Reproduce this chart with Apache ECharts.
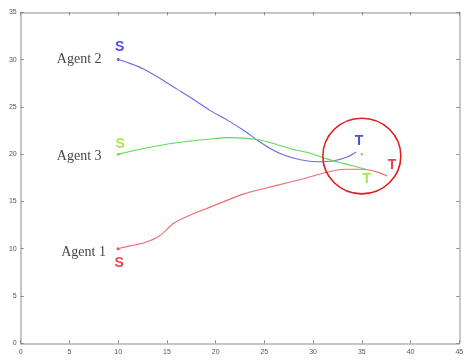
<!DOCTYPE html>
<html><head><meta charset="utf-8">
<script src="https://cdn.jsdelivr.net/npm/echarts@6/dist/echarts.min.js"></script>
<style>html,body{margin:0;padding:0;background:#fff}#c{width:474px;height:362px}</style>
</head><body><div id="c"></div>
<script>
// Agent trajectories [x, y]
var agent1 = [[10,10],[11.2,10.3],[12.6,10.6],[14.3,11.4],[15.7,12.7],[17.7,13.7],[19.45,14.4],[22.9,15.8],[26.3,16.7],[29.0,17.4],[31.1,18.0],[33.2,18.4],[35.2,18.4],[36.6,18.1],[37.6,17.7]];
var agent2 = [[10,30],[11.2,29.6],[12.6,29.0],[14.3,28.0],[16.0,26.9],[17.7,25.8],[19.45,24.6],[21.2,23.6],[22.9,22.5],[24.25,21.5],[25.6,20.6],[27.0,19.9],[28.7,19.4],[30.4,19.2],[32.1,19.3],[33.5,19.7],[34.4,20.2]];
var agent3 = [[10,20],[12.6,20.6],[16.0,21.2],[19.45,21.6],[21.5,21.75],[22.9,21.7],[24.6,21.5],[26.3,21.0],[28.0,20.5],[29.7,20.1],[31.4,19.5],[33.2,19.0],[35.4,18.4]];
var startPoints = [[10,10],[10,30],[10,20]];
var targetDot = [[35,20]];
// Target region: centre and radius
var circleCenter = [35,19.8];
var circleRadius = 4;
// Annotations [x, y, text]
var agentLabels = [[6.0,30.0,'Agent 2'],[6.0,19.75,'Agent 3'],[6.45,9.64,'Agent 1']];
var sLabels = [[10.15,31.3,'S','#2222e0'],[10.2,21.05,'S','#92e01e'],[10.1,8.48,'S','#e6101c']];
var tLabels = [[34.7,21.4,'T','#2222e0'],[35.5,17.4,'T','#92e01e'],[38.1,18.8,'T','#e6101c']];

var axisCol = '#b4b4b4';
var chart = echarts.init(document.getElementById('c'));
function labelSeries(data, font, size, weight){
  return {type:'scatter', symbolSize:0, silent:true, z:5,
    data:data.map(function(d){return {value:[d[0],d[1]], name:d[2],
      label:{color:d[3] || '#111'}};}),
    label:{show:true, position:'inside', formatter:function(p){return p.name;},
      fontFamily:font, fontSize:size, fontWeight:weight}};
}
var aLab = labelSeries(agentLabels,'Liberation Serif, Times New Roman',14,'normal');
var sLab = labelSeries(sLabels,'Liberation Sans, Arial',14,'bold');
var tLab = labelSeries(tLabels,'Liberation Sans, Arial',14,'bold');

function ax(type, pos, max, labels){
  return {type:'value', min:0, max:max, interval:5, position:pos,
    axisLine:{show:true, onZero:false, lineStyle:{color:axisCol, width:1.5}},
    axisTick:{show:true, inside:true, length:3, lineStyle:{color:'#888'}},
    axisLabel:{show:labels, color:'#555', fontSize:7, margin:(type==='x'?5:4), fontFamily:'Liberation Sans, Arial'},
    splitLine:{show:false}};
}

chart.setOption({
  animation:false,
  grid:{left:20.7, right:14.7, top:12.3, bottom:18.7},
  xAxis:[ax('x','bottom',45,true), ax('x','top',45,false)],
  yAxis:[ax('y','left',35,true), ax('y','right',35,false)],
  series:[
    {type:'line', data:agent2, smooth:0.25, showSymbol:false, lineStyle:{color:'#6a6ae2', width:1.1}},
    {type:'line', data:agent3, smooth:0.25, showSymbol:false, lineStyle:{color:'#62d85a', width:1.1}},
    {type:'line', data:agent1, smooth:0.25, showSymbol:false, lineStyle:{color:'#ef6b74', width:1.1}},
    {type:'scatter', data:startPoints, symbolSize:3,
      itemStyle:{color:function(p){return ['#e8141e','#3a3ae6','#5cd040'][p.dataIndex];}}},
    {type:'scatter', data:targetDot, symbolSize:2.5, itemStyle:{color:'#5cd040'}},
    {type:'custom', silent:true, z:4,
      data:[[circleCenter[0], circleCenter[1], circleRadius]],
      renderItem:function(params, api){
        var c = api.coord([api.value(0), api.value(1)]);
        var s = api.size([api.value(2), api.value(2)]);
        return {type:'circle', shape:{cx:0, cy:0, r:s[0]},
          x:c[0], y:c[1], scaleY:s[1]/s[0],
          style:{fill:'none', stroke:'#e01e1e', lineWidth:1.6}, strokeNoScale:true};
      }},
    aLab, sLab, tLab
  ]
});
</script></body></html>
